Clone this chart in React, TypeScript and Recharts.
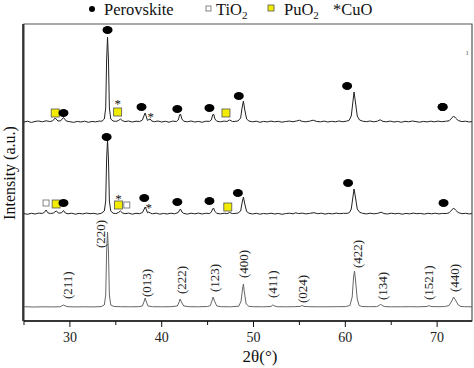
import React from "react";
import { ComposedChart, Line, Scatter, XAxis, YAxis, ReferenceArea } from "recharts";

// 2θ (deg) vs intensity (a.u.) for the three stacked patterns
const topTrace: [number, number][] = [
  [25, 0], [25.4, 0.8], [25.8, -0.5], [26.2, 0.6], [26.6, 1], [27, 0.2], [27.4, 1.2], [27.8, 0.5], [28.1, 1],
  [28.4, 4], [28.7, 1], [29, 1.2], [29.3, 4.5], [29.6, 1], [30, 0.3], [30.4, -0.4], [30.8, 0.6], [31.2, 0],
  [31.6, 0.8], [32, -0.3], [32.4, 0.5], [32.8, 0.2], [33.2, 0.9], [33.5, 0.8], [33.75, 3], [33.9, 14], [34, 62],
  [34.1, 85], [34.2, 62], [34.3, 14], [34.45, 3], [34.7, 1], [35, 0.6], [35.3, 1.5], [35.5, 3], [35.7, 1.5],
  [36, 0.4], [36.4, 1], [36.8, 0], [37.2, 0.8], [37.6, 0.5], [37.9, 2], [38.1, 7], [38.2, 9], [38.3, 6],
  [38.45, 1.5], [38.6, 2.5], [38.75, 3], [38.9, 1], [39.2, 0.3], [39.6, 1], [40, 0], [40.4, 0.7], [40.8, -0.2],
  [41.2, 0.9], [41.6, 0.5], [41.8, 2], [41.95, 7], [42.05, 8], [42.2, 3], [42.4, 0.8], [42.8, 0.2], [43.2, 1],
  [43.6, 0], [44, 0.6], [44.4, -0.3], [44.8, 0.8], [45.2, 0.6], [45.4, 2], [45.55, 7], [45.65, 8], [45.8, 3],
  [46, 0.8], [46.4, 0.2], [46.8, 0.9], [47.1, 0.5], [47.4, 2], [47.7, 0.5], [48, 0.6], [48.3, 1], [48.6, 4],
  [48.75, 14], [48.9, 21], [49.05, 12], [49.25, 3], [49.5, 1], [49.9, 0.2], [50.3, 0.8], [50.7, -0.3], [51.1, 0.6],
  [51.5, 0.1], [51.9, 0.9], [52.3, 0.2], [52.7, 0.7], [53.1, -0.2], [53.5, 0.5], [53.9, 0.9], [54.3, 0.3],
  [54.7, 1], [55, 1.8], [55.3, 0.6], [55.7, 0.2], [56.1, 0.8], [56.5, 1.8], [56.9, 0.5], [57.3, 0.2], [57.7, 0.9],
  [58.1, 0], [58.5, 0.7], [58.9, 0.2], [59.3, 1], [59.7, 0.3], [60.1, 0.8], [60.4, 1.5], [60.65, 6], [60.8, 18],
  [60.95, 30], [61.1, 20], [61.3, 6], [61.55, 2], [61.9, 0.8], [62.3, 0.3], [62.7, 1], [63.1, 0.2], [63.5, 0.8],
  [63.8, 2.2], [64.1, 0.6], [64.5, 0.2], [64.9, 0.9], [65.3, 0], [65.7, 0.6], [66.1, -0.3], [66.5, 0.7],
  [66.9, 0.2], [67.3, 1], [67.7, 0.4], [68.1, -0.2], [68.5, 0.6], [68.9, 0.1], [69.3, 0.8], [69.7, 0.2],
  [70.1, 0.9], [70.5, 0.3], [70.9, 0.7], [71.3, 1.2], [71.6, 4], [71.8, 6], [72, 4], [72.3, 1.5], [72.7, 0.4],
  [73.1, 0.8], [73.5, 0], [73.8, 0.5],
];

const middleTrace: [number, number][] = [
  [25, 0.4], [25.4, -0.3], [25.8, 0.7], [26.2, 0], [26.6, 0.9], [27, 0.6], [27.2, 1.5], [27.4, 4], [27.6, 1.2],
  [27.9, 0.4], [28.2, 1], [28.5, 3], [28.8, 0.8], [29.1, 1.2], [29.3, 3.5], [29.5, 1], [29.8, 0.2], [30.2, 0.8],
  [30.6, -0.2], [31, 0.6], [31.4, 0.1], [31.8, 0.9], [32.2, 0.3], [32.6, 0.7], [33, -0.1], [33.4, 0.6],
  [33.75, 3], [33.9, 13], [34, 55], [34.1, 74], [34.2, 55], [34.3, 13], [34.45, 3], [34.7, 0.8], [35, 0.4],
  [35.3, 1.5], [35.5, 3], [35.7, 1.2], [36, 0.3], [36.4, 0.9], [36.8, -0.2], [37.2, 0.7], [37.6, 0.3],
  [37.9, 1.5], [38.1, 5], [38.2, 7], [38.3, 5], [38.45, 1.2], [38.6, 2], [38.75, 1], [39, 0.2], [39.4, 0.9],
  [39.8, -0.2], [40.2, 0.6], [40.6, 0], [41, 0.8], [41.4, 0.2], [41.8, 1.5], [41.95, 4], [42.05, 5], [42.2, 2],
  [42.4, 0.6], [42.8, -0.1], [43.2, 0.8], [43.6, 0.2], [44, 0.9], [44.4, 0], [44.8, 0.7], [45.2, 0.5],
  [45.4, 1.8], [45.55, 5], [45.65, 6], [45.8, 2.5], [46, 0.7], [46.4, 0.1], [46.8, 0.8], [47.1, 0.3],
  [47.4, 1.5], [47.7, 0.4], [48, 0.6], [48.3, 0.9], [48.6, 3], [48.75, 11], [48.9, 17], [49.05, 10], [49.25, 2.5],
  [49.5, 0.8], [49.9, 0], [50.3, 0.7], [50.7, -0.2], [51.1, 0.5], [51.5, 0.1], [51.9, 0.8], [52.3, 0],
  [52.7, 0.6], [53.1, -0.3], [53.5, 0.4], [53.9, 0.8], [54.3, 0.2], [54.6, 1.2], [54.9, 0.4], [55.3, 0.9],
  [55.7, 0.1], [56.1, 0.6], [56.6, 1.3], [57, 0.3], [57.4, 0.8], [57.8, -0.1], [58.2, 0.6], [58.6, 0.1],
  [59, 0.9], [59.4, 0.3], [59.8, 0.7], [60.2, 0.6], [60.45, 1.5], [60.65, 5], [60.8, 15], [60.95, 25], [61.1, 17],
  [61.3, 5], [61.55, 1.8], [61.9, 0.6], [62.3, 0.1], [62.7, 0.8], [63.1, 0.2], [63.5, 0.6], [63.9, 1.8],
  [64.2, 0.5], [64.6, 0], [65, 0.8], [65.4, 0.2], [65.8, 0.7], [66.2, -0.2], [66.6, 0.6], [67, 0.1], [67.4, 0.9],
  [67.8, 0.3], [68.2, 0.6], [68.6, -0.1], [69, 0.7], [69.4, 0.2], [69.8, 0.8], [70.2, 0.1], [70.6, 0.6],
  [71, 0.4], [71.3, 1.2], [71.6, 4], [71.8, 6], [72, 4], [72.3, 1.5], [72.7, 0.3], [73.1, 0.7], [73.5, 0.1],
  [73.8, 0.4],
];

const bottomTrace: [number, number][] = [
  [25, 0.3], [26, 0], [27, 0.2], [28, 0.1], [28.9, 0.2], [29.1, 1], [29.3, 2], [29.5, 1], [29.8, 0.3],
  [30.5, 0.1], [31.5, 0.2], [32.5, 0.1], [33.4, 0.4], [33.75, 2], [33.9, 12], [34, 55], [34.1, 75], [34.2, 55],
  [34.3, 12], [34.45, 2], [34.8, 0.5], [35.5, 0.3], [36.5, 0.2], [37.5, 0.3], [37.9, 1], [38.1, 6], [38.2, 9],
  [38.3, 6], [38.5, 1], [39, 0.3], [40, 0.2], [41, 0.3], [41.7, 1], [41.9, 5], [42, 8], [42.15, 5], [42.4, 1],
  [43, 0.3], [44, 0.2], [45, 0.5], [45.3, 1.5], [45.5, 7], [45.6, 10], [45.75, 6], [46, 1], [46.5, 0.3],
  [47.5, 0.2], [48.4, 0.8], [48.65, 6], [48.8, 18], [48.9, 23], [49.0, 15], [49.2, 3], [49.5, 0.6], [50, 0.3],
  [51, 0.2], [51.9, 0.5], [52.1, 2], [52.3, 1], [52.6, 0.3], [53.5, 0.2], [54.5, 0.3], [55.1, 0.6], [55.3, 1.5],
  [55.5, 0.6], [56, 0.3], [57, 0.2], [58, 0.2], [59, 0.3], [60, 0.4], [60.5, 1.5], [60.75, 10], [60.9, 30],
  [61, 36], [61.1, 28], [61.3, 8], [61.5, 1.5], [61.8, 0.5], [62.5, 0.3], [63.4, 0.4], [63.7, 1.5], [63.85, 3],
  [64, 1.5], [64.3, 0.4], [65, 0.2], [66, 0.2], [67, 0.3], [68, 0.2], [68.9, 0.5], [69.1, 1.5], [69.3, 0.5],
  [70, 0.3], [70.8, 0.4], [71.3, 1.5], [71.6, 6], [71.8, 10], [72, 7], [72.3, 2], [72.6, 0.5], [73, 0.3],
  [73.8, 0.2],
];

// vertical stacking offsets for the three patterns (a.u.)
const stackOffsets = { top: 199, middle: 107, bottom: 14 };

// phase markers: 2θ, intensity, phase
const markerPhases = ["dot", "puo2", "dot", "dot", "cuo", "puo2", "dot", "cuo", "dot", "dot", "puo2", "dot", "dot", "dot"];
const markerTheta = [34.1, 28.4, 29.3, 37.8, 35.2, 35.2, 41.7, 38.8, 45.2, 48.4, 47.0, 60.2, 70.6, 70.6];
const markerInt = [291, 208, 208, 214, 218, 209, 212, 205, 213, 225, 208, 235, 214, 214];

const midMarkerPhases = ["tio2", "puo2", "dot", "dot", "cuo", "puo2", "tio2", "dot", "cuo", "dot", "dot", "puo2", "dot", "dot", "dot"];
const midMarkerTheta = [27.4, 28.5, 29.3, 34.0, 35.3, 35.3, 36.2, 38.1, 38.6, 41.7, 45.2, 47.2, 48.3, 60.3, 70.7];
const midMarkerInt = [118, 117, 118, 184, 123, 116, 116, 123, 114, 119, 120, 114, 128, 138, 118];

// Miller indices for the bottom pattern
const hklLabels = ["(211)", "(220)", "(013)", "(222)", "(123)", "(400)", "(411)", "(024)", "(422)", "(134)", "(1521)", "(440)"];
const hklTheta = [29.7, 33.3, 38.3, 42.2, 45.8, 48.9, 52.1, 55.3, 61.3, 64.0, 69.1, 71.9];
const hklInt = [22, 73, 24, 27, 29, 43, 23, 18, 53, 21, 21, 29];

const xTicks = [25, 30, 35, 40, 45, 50, 55, 60, 65, 70];

const serif = '"Liberation Serif", "Times New Roman", serif';

const toSeries = (trace: [number, number][], offset: number) =>
  trace.map(([x, y]) => ({ x, y: y + offset }));

const topData = toSeries(topTrace, stackOffsets.top);
const middleData = toSeries(middleTrace, stackOffsets.middle);
const bottomData = toSeries(bottomTrace, stackOffsets.bottom);

const markerData = [
  ...markerTheta.map((x, i) => ({ x, y: markerInt[i], phase: markerPhases[i] })),
  ...midMarkerTheta.map((x, i) => ({ x, y: midMarkerInt[i], phase: midMarkerPhases[i] })),
];
const hklData = hklTheta.map((x, i) => ({ x, y: hklInt[i], label: hklLabels[i] }));

const PhaseMarker = (props: any) => {
  const { cx, cy, payload } = props;
  if (cx == null || cy == null) return null;
  switch (payload.phase) {
    case "dot":
      return <ellipse cx={cx} cy={cy} rx={5} ry={4} fill="#000" />;
    case "puo2":
      return <rect x={cx - 4} y={cy - 4} width={8} height={8} fill="#f2ec00" stroke="#555" strokeWidth={0.8} />;
    case "tio2":
      return <rect x={cx - 3} y={cy - 3} width={6} height={6} fill="#fff" stroke="#666" strokeWidth={0.8} />;
    default:
      return (
        <text x={cx} y={cy + 5} textAnchor="middle" fontSize={13} fontFamily={serif} fill="#111">
          *
        </text>
      );
  }
};

const HklLabel = (props: any) => {
  const { cx, cy, payload } = props;
  if (cx == null || cy == null) return null;
  return (
    <text
      x={cx}
      y={cy}
      transform={`rotate(-90, ${cx}, ${cy})`}
      textAnchor="start"
      dominantBaseline="central"
      fontSize={13}
      fontFamily={serif}
      fill="#222"
    >
      {payload.label}
    </text>
  );
};

const XTick = (props: any) => {
  const { x, y, payload } = props;
  const major = payload.value % 10 === 0;
  return (
    <g>
      <line x1={x} x2={x} y1={y} y2={y + (major ? 6 : 4)} stroke="#111" strokeWidth={1} />
      {major && (
        <text x={x} y={y + 21} textAnchor="middle" fontSize={14} fontFamily={serif} fill="#222">
          {payload.value}
        </text>
      )}
    </g>
  );
};

export default function App() {
  return (
    <div style={{ position: "absolute", left: 0, top: 0, width: 474, height: 368, background: "#fff" }}>
      <ComposedChart width={474} height={368} margin={{ top: 24, right: 2, left: 24, bottom: 17 }}>
        <XAxis
          dataKey="x"
          type="number"
          domain={[25, 73.8]}
          ticks={xTicks}
          interval={0}
          allowDataOverflow
          tickLine={false}
          tickSize={0}
          tickMargin={0}
          height={30}
          axisLine={{ stroke: "#111", strokeWidth: 1.5 }}
          tick={<XTick />}
        />
        <YAxis type="number" domain={[0, 297]} hide allowDataOverflow />
        <ReferenceArea x1={25} x2={73.8} y1={0} y2={297} fill="none" stroke="#555" strokeWidth={1.2} />
        <Line data={topData} dataKey="y" type="linear" stroke="#222" strokeWidth={1} dot={false} isAnimationActive={false} />
        <Line data={middleData} dataKey="y" type="linear" stroke="#222" strokeWidth={1} dot={false} isAnimationActive={false} />
        <Line data={bottomData} dataKey="y" type="linear" stroke="#666" strokeWidth={1} dot={false} isAnimationActive={false} />
        <Scatter data={markerData} dataKey="y" shape={<PhaseMarker />} isAnimationActive={false} />
        <Scatter data={hklData} dataKey="y" shape={<HklLabel />} isAnimationActive={false} />
      </ComposedChart>

      <svg width={474} height={368} style={{ position: "absolute", left: 0, top: 0, pointerEvents: "none" }}>
        <line x1={23} x2={23} y1={24} y2={321} stroke="#111" strokeWidth={1.5} />
        {/* legend */}
        <circle cx={92} cy={9} r={3} fill="#000" />
        <text x={104} y={14.5} fontSize={16.5} fontFamily={serif} fill="#111">Perovskite</text>
        <rect x={206} y={6} width={5} height={5} fill="#fff" stroke="#666" strokeWidth={0.8} />
        <text x={216} y={14.5} fontSize={16.5} fontFamily={serif} fill="#111">
          TiO<tspan fontSize={11} dy={4}>2</tspan>
        </text>
        <rect x={268} y={5} width={6} height={6} fill="#f2ec00" stroke="#555" strokeWidth={0.8} />
        <text x={284} y={14.5} fontSize={16.5} fontFamily={serif} fill="#111">
          PuO<tspan fontSize={11} dy={4}>2</tspan>
        </text>
        <text x={333} y={14.5} fontSize={16.5} fontFamily={serif} fill="#111">*CuO</text>
        <text x={466} y={55} fontSize={9} fontFamily={serif} fill="#777">ı</text>
        {/* axis titles */}
        <text
          x={9}
          y={173}
          transform="rotate(-90, 9, 173)"
          textAnchor="middle"
          dominantBaseline="central"
          fontSize={16}
          fontFamily={serif}
          fill="#111"
        >
          Intensity (a.u.)
        </text>
        <text x={260} y={362} textAnchor="middle" fontSize={17} fontFamily={serif} fill="#111">
          2θ(°)
        </text>
      </svg>
    </div>
  );
}
